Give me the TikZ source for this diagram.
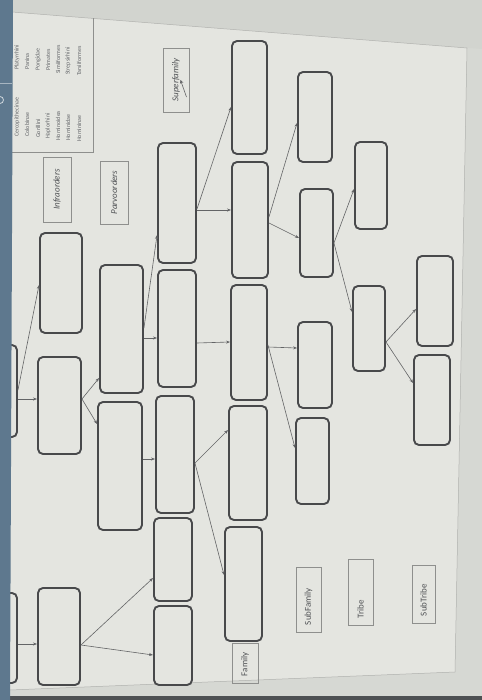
\documentclass[tikz,border=0pt]{standalone}
\usepackage{fontspec}
\setmainfont{Carlito}
\usetikzlibrary{arrows.meta,fit}
\definecolor{bgc}{HTML}{D6D8D3}
\definecolor{bgtop}{HTML}{D2D4CF}
\definecolor{paperc}{HTML}{E4E5E0}
\definecolor{stripc}{HTML}{5E788E}
\definecolor{darkc}{HTML}{4E5153}
\definecolor{boxc}{HTML}{48494B}
\definecolor{arrc}{HTML}{636466}
\definecolor{labc}{HTML}{8E8F8D}
\definecolor{txtc}{HTML}{505255}
\definecolor{wordc}{HTML}{64666A}
\begin{document}
\begin{tikzpicture}[x=1bp,y=-1bp,
  box/.style={draw=boxc, line width=1.9bp, rounded corners=5bp, inner sep=0pt, fill=paperc},
  arr/.style={draw=arrc, line width=0.6bp, -{Stealth[length=4bp,width=3bp]}},
  lab/.style={draw=labc, line width=0.7bp, rotate=90, inner sep=0pt, text=txtc, font=\fontsize{9}{10}\selectfont},
  labl/.style={lab, inner xsep=7bp, align=left},
  word/.style={rotate=90, anchor=west, inner sep=0pt, text=wordc, font=\fontsize{6}{7}\selectfont}]
\clip (0,0) rectangle (482,700);
% photo background and paper
\fill[bgc] (0,0) rectangle (482,700);
\fill[bgtop] (0,0) -- (482,0) -- (482,49) -- (13,12) -- cycle;
\fill[paperc] (12,12) -- (467,48) -- (455,672) -- (10,690) -- cycle;
\draw[labc!60!paperc, line width=0.5bp] (12,12) -- (467,48) -- (455,672) -- (10,690);
\fill[darkc] (0,696) rectangle (482,700);

% word list frame
\draw[labc, line width=0.7bp] (12,152) -- (93,152) -- (93,18);
\node[word] (w1) at (17,137) {Cercopithecinae};
\node[word] (w2) at (27,137) {Colobinae};
\node[word] (w3) at (38,138) {Gorillini};
\node[word] (w4) at (48,139) {Haplorhini};
\node[word] (w5) at (58,141) {Hominoidea};
\node[word] (w6) at (68,141) {Hominidae};
\node[word] (w7) at (79,142) {Homininae};
\node[word] (w8) at (17,70) {Platyrrhini};
\node[word] (w9) at (27,70) {Panina};
\node[word] (w10) at (38,71) {Pongidae};
\node[word] (w11) at (48,71) {Primates};
\node[word] (w12) at (58,74) {Simiiformes};
\node[word] (w13) at (68,75) {Strepsirhini};
\node[word] (w14) at (79,76) {Tarsiiformes};

% rank labels
\node[lab, minimum width=65bp, minimum height=28bp] (infra) at (57,189.5) {\itshape Infraorders};
\node[lab, minimum width=63bp, minimum height=28bp] (parvo) at (114,192.5) {\itshape Parvoorders};
\node[lab, minimum width=64bp, minimum height=26bp] (superf) at (176,80) {\itshape Superfamily};
\node[labl, minimum height=26bp, text width=26bp] (fam) at (245,663) {Family};
\node[labl, minimum height=25bp, text width=51bp] (subfam) at (308.5,599.5) {SubFamily};
\node[labl, minimum height=25bp, text width=52bp] (tribe) at (360.5,592) {Tribe};
\node[labl, minimum height=23bp, text width=44bp] (subtribe) at (423.5,594) {SubTribe};
\coordinate (cur) at (186.5,97);
\draw[arr, -{Stealth[length=3.5bp,width=3.5bp]}] (cur) -- (superf.center -| 180.5,92);

% boxes
\node[box, fit={(-30,345) (17,437)}] (L1) {};
\node[box, fit={(-30,593) (17,683)}] (L2) {};
\node[box, fit={(40,233) (82,333)}] (A) {};
\node[box, fit={(38,357) (81,454)}] (B) {};
\node[box, fit={(38,588) (80,685)}] (C) {};
\node[box, fit={(100,265) (143,393)}] (D) {};
\node[box, fit={(98,402) (142,530)}] (E) {};
\node[box, fit={(158,143) (196,263)}] (F) {};
\node[box, fit={(158,270) (196,387)}] (G) {};
\node[box, fit={(156,396) (194,513)}] (H) {};
\node[box, fit={(154,518) (192,601)}] (I) {};
\node[box, fit={(154,606) (192,685)}] (J) {};
\node[box, fit={(232,41) (267,154)}] (K) {};
\node[box, fit={(232,162) (268,278)}] (L) {};
\node[box, fit={(231,285) (267,400)}] (M) {};
\node[box, fit={(229,406) (267,520)}] (N) {};
\node[box, fit={(225,527) (262,641)}] (O) {};
\node[box, fit={(298,72) (332,162)}] (P) {};
\node[box, fit={(300,189) (333,277)}] (Q) {};
\node[box, fit={(298,322) (332,408)}] (R) {};
\node[box, fit={(296,418) (329,504)}] (S) {};
\node[box, fit={(355,142) (387,229)}] (T) {};
\node[box, fit={(353,286) (385,371)}] (U) {};
\node[box, fit={(417,256) (453,346)}] (V) {};
\node[box, fit={(414,355) (450,445)}] (W) {};

% connectors
\draw[arr] (L1.east |- 0,390) -- (A.west |- 0,285);
\draw[arr] (L1.east |- 0,399) -- (B.west |- 0,399);
\draw[arr] (L2.east |- 0,644) -- (C.west |- 0,644);
\draw[arr] (B.east |- 0,399) -- (D.west |- 0,378);
\draw[arr] (B.east |- 0,399) -- (E.west |- 0,424);
\draw[arr] (C.east |- 0,645) -- (I.west |- 0,578);
\draw[arr] (C.east |- 0,645) -- (J.west |- 0,655);
\draw[arr] (D.east |- 0,328) -- (F.west |- 0,235);
\draw[arr] (D.east |- 0,338) -- (G.west |- 0,338);
\draw[arr] (E.east |- 0,459) -- (H.west |- 0,459);
\draw[arr] (F.east |- 0,209) -- (K.west |- 0,107);
\draw[arr] (F.east |- 0,210) -- (L.west |- 0,210);
\draw[arr] (G.east |- 0,343) -- (M.west |- 0,342);
\draw[arr] (H.east |- 0,463) -- (N.west |- 0,430);
\draw[arr] (H.east |- 0,463) -- (O.west |- 0,575);
\draw[arr] (L.east |- 0,217) -- (P.west |- 0,123);
\draw[arr] (L.east |- 0,223) -- (Q.west |- 0,238);
\draw[arr] (M.east |- 0,347) -- (R.west |- 0,348);
\draw[arr] (M.east |- 0,345) -- (S.west |- 0,448);
\draw[arr] (Q.east |- 0,243) -- (T.west |- 0,189);
\draw[arr] (Q.east |- 0,243) -- (U.west |- 0,312);
\draw[arr] (U.east |- 0,342) -- (V.west |- 0,309);
\draw[arr] (U.east |- 0,342) -- (W.west |- 0,383);

% screen edge strip on the left
\fill[stripc] (0,0) -- (13,0) -- (10,700) -- (0,700) -- cycle;
\draw[stripc!55!white, line width=0.6bp] (0,83) -- (12.3,83);
\draw[stripc!30!white, line width=0.8bp] (0,100) circle (3.5bp);
\end{tikzpicture}
\end{document}
